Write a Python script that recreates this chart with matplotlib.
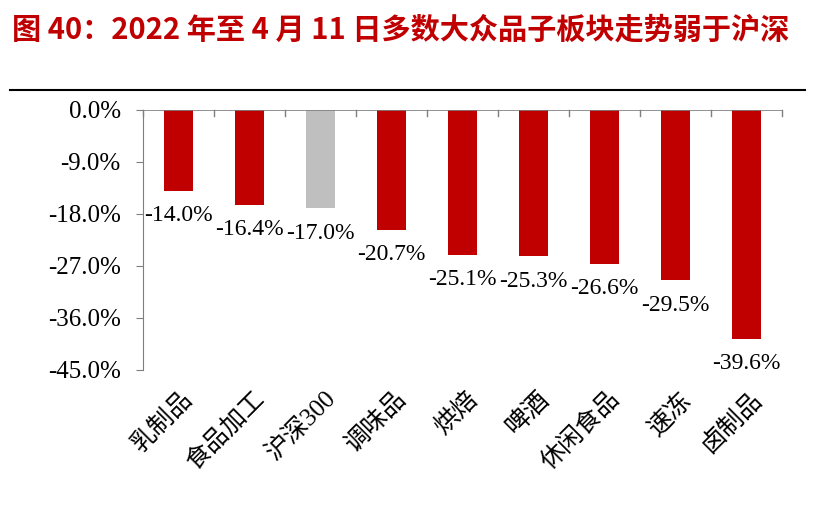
import matplotlib
matplotlib.use('Agg')
from matplotlib import pyplot as plt
import numpy as np

categories = ['乳制品', '食品加工', '沪深300', '调味品', '烘焙', '啤酒', '休闲食品', '速冻', '卤制品']
values = [-14.0, -16.4, -17.0, -20.7, -25.1, -25.3, -26.6, -29.5, -39.6]
yticks = [0, -9, -18, -27, -36, -45]

red = '#C00000'
grey = '#BFBFBF'
colors = [grey if c == '沪深300' else red for c in categories]

serif = ['Liberation Serif', 'Noto Sans CJK SC']

fig = plt.figure(figsize=(8.3, 5.19), dpi=100)
ax = fig.add_axes([143 / 830, 1 - 370 / 519, (782 - 143) / 830, 260 / 519])

x = np.arange(len(categories))
ax.bar(x, values, width=0.4, color=colors, zorder=2)

ax.set_xlim(-0.5, len(categories) - 0.5)
ax.set_ylim(-45, 0)
ax.set_yticks(yticks)
ax.set_yticklabels(['%.1f%%' % v for v in yticks], family=serif, fontsize=18)

# x axis sits at the top (0), ticks at category boundaries pointing down
for k in range(len(categories) + 1):
    ax.plot([k - 0.5, k - 0.5], [0, -1.1], color='#7f7f7f', lw=1, clip_on=False, zorder=3)
ax.set_xticks([])

for side in ['top', 'right', 'bottom']:
    ax.spines[side].set_visible(False)
ax.spines['left'].set_color('#7f7f7f')
ax.axhline(0, color='#7f7f7f', lw=1.2, zorder=3)
ax.tick_params(axis='y', length=5, color='#7f7f7f', pad=11)

for xi, v in zip(x, values):
    ax.text(xi, v - 2.5, '%.1f%%' % v, ha='center', va='top', family=serif, fontsize=17)

for xi, c in zip(x, categories):
    ax.text(xi + 0.05, -48.0, c, rotation=45, rotation_mode='anchor', ha='right', va='top',
            family=serif, fontsize=18)

fig.text(12 / 830, 1 - 30 / 519, '图 40：2022 年至 4 月 11 日多数大众品子板块走势弱于沪深',
         color=red, fontsize=21, fontweight='bold', family=['Noto Sans CJK SC', 'DejaVu Sans'],
         va='center', ha='left')
fig.add_artist(plt.Line2D([10 / 830, 805 / 830], [1 - 90 / 519, 1 - 90 / 519], color='black', lw=1.5))

fig.savefig('out.png', dpi=100)
